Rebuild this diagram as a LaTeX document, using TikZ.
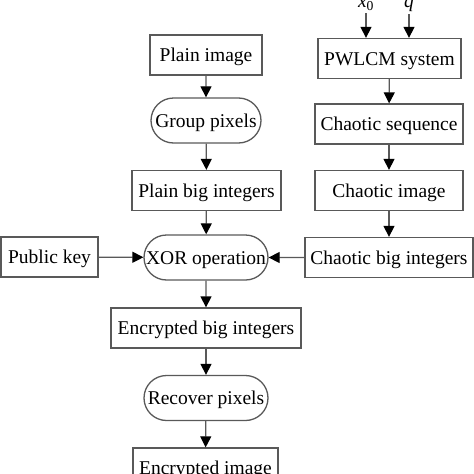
\documentclass[tikz,border=0pt]{standalone}
\usepackage{fontspec}
\setmainfont{Liberation Serif}
\usetikzlibrary{arrows.meta,shapes.misc}
\begin{document}
\begin{tikzpicture}[x=1pt,y=-1pt,
    box/.style={draw=black!65,line width=1.3pt,minimum height=40pt,inner sep=2pt,text height=14pt,text depth=1pt,font=\fontsize{19.5}{22}\selectfont},
    roundbox/.style={box,rounded rectangle,minimum height=45pt},
    flow/.style={draw=black!65,line width=1.3pt,-{Triangle[length=11pt,width=11pt,black]}}]
    \useasboundingbox (0,0) rectangle (474,474);
    \node[box,minimum width=112pt] (plain) at (206,55) {Plain image};
    \node[roundbox,minimum width=114pt] (group) at (206,120.5) {Group pixels};
    \node[box,minimum width=149pt] (plainbig) at (206.5,190.5) {Plain big integers};
    \node[roundbox,minimum width=128pt] (xor) at (206,257.5) {XOR operation};
    \node[box,minimum width=97pt] (pubkey) at (49.5,257) {Public key};
    \node[box,minimum width=190pt] (encbig) at (206,328) {Encrypted big integers};
    \node[roundbox,minimum width=128pt] (recover) at (206,398) {Recover pixels};
    \node[box,minimum width=145pt] (encimg) at (205.5,468) {Encrypted image};
    \node[box,minimum width=143pt] (pwlcm) at (389.5,58.5) {PWLCM system};
    \node[box,minimum width=148pt] (chseq) at (389,124) {Chaotic sequence};
    \node[box,minimum width=148pt] (chimg) at (389,190.5) {Chaotic image};
    \node[box,minimum width=168pt] (chbig) at (389,257.5) {Chaotic big integers};
    \node[anchor=base,inner sep=3pt,font=\fontsize{19.5}{22}\selectfont] (xzero) at (366,7) {\textit{x}\textsubscript{0}};
    \node[anchor=base,inner sep=3pt,font=\fontsize{19.5}{22}\selectfont] (qpar) at (409,7) {\textit{q}};
    \draw[flow] (xzero.south) -- (xzero.south |- pwlcm.north);
    \draw[flow] (qpar.south) -- (qpar.south |- pwlcm.north);
    \draw[flow] (pwlcm) -- (chseq);
    \draw[flow] (chseq) -- (chimg);
    \draw[flow] (chimg) -- (chbig);
    \draw[flow] (plain) -- (group);
    \draw[flow] (group) -- (plainbig);
    \draw[flow] (plainbig) -- (xor);
    \draw[flow] (xor) -- (encbig);
    \draw[flow] (encbig) -- (recover);
    \draw[flow] (recover) -- (encimg);
    \draw[flow] (pubkey) -- (xor);
    \draw[flow] (chbig) -- (xor);
\end{tikzpicture}
\end{document}
